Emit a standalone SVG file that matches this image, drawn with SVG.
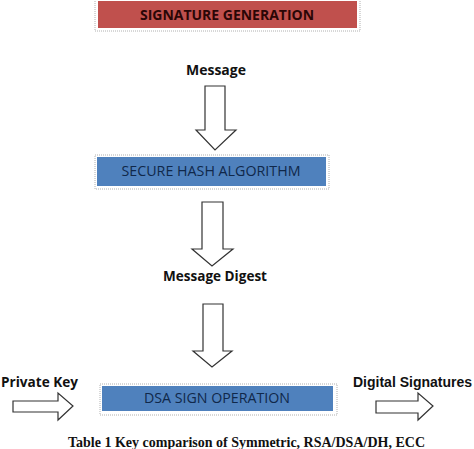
<svg xmlns="http://www.w3.org/2000/svg" width="474" height="449" viewBox="0 0 474 449">
<style>
.frame{fill:#fff;stroke:#b0b0b0;stroke-width:1;stroke-dasharray:1 1}
.lbl{font-family:"Open Sans","Liberation Sans",sans-serif;font-weight:bold;font-size:14px;fill:#111}
.bt{font-family:"Open Sans","Liberation Sans",sans-serif;font-size:14px;text-anchor:middle}
.arr{fill:#fff;stroke:#333;stroke-width:1.2}
.cap{font-family:"Liberation Serif",serif;font-weight:bold;font-size:15px;fill:#111}
</style>
<rect width="474" height="449" fill="#fff"/>
<g id="sig-gen">
<rect class="frame" x="95" y="-2" width="265" height="33"/>
<rect x="98" y="1" width="259" height="27" fill="#c0504d"/>
<text class="bt" x="227" y="20" fill="#2a0606" font-weight="bold" textLength="174" lengthAdjust="spacingAndGlyphs">SIGNATURE GENERATION</text>
</g>
<g id="message">
<text class="lbl" x="186" y="75" textLength="60" lengthAdjust="spacingAndGlyphs">Message</text>
</g>
<g id="sha">
<rect class="frame" x="95" y="155" width="234" height="34"/>
<rect x="97" y="157" width="229" height="29" fill="#4f81bd"/>
<text class="bt" x="211" y="176" fill="#10284a" textLength="179" lengthAdjust="spacingAndGlyphs">SECURE HASH ALGORITHM</text>
</g>
<g id="digest">
<text class="lbl" x="163" y="281" textLength="104" lengthAdjust="spacingAndGlyphs">Message Digest</text>
</g>
<g id="dsa">
<rect class="frame" x="100" y="384" width="237" height="31"/>
<rect x="102" y="386" width="231" height="25" fill="#4f81bd"/>
<text class="bt" x="217" y="403" fill="#10284a" textLength="146" lengthAdjust="spacingAndGlyphs">DSA SIGN OPERATION</text>
</g>
<g id="private-key">
<text class="lbl" x="1" y="387" textLength="77" lengthAdjust="spacingAndGlyphs">Private Key</text>
</g>
<g id="digital-sig">
<text x="353" y="387" font-family="'Liberation Sans',Arial,sans-serif" font-weight="bold" font-size="14" fill="#111">Digital Signatures</text>
</g>
<g id="connectors">
<path class="arr" d="M205,86 H225 V130 H236 L215,150 L196,130 H205 Z"/>
<path class="arr" d="M202,202 H223 V249 H233 L212,266 L192,249 H202 Z"/>
<path class="arr" d="M203,304 H223 V351 H232 L212,367 L193,351 H203 Z"/>
<path class="arr" d="M13,401 H58 V393 L73,406 L58,420 V412 H13 Z"/>
<path class="arr" d="M376,401 H418 V393 L433,406 L418,420 V413 H376 Z"/>
</g>
<text class="cap" x="68" y="447" textLength="357" lengthAdjust="spacingAndGlyphs">Table 1 Key comparison of Symmetric, RSA/DSA/DH, ECC</text>
</svg>
